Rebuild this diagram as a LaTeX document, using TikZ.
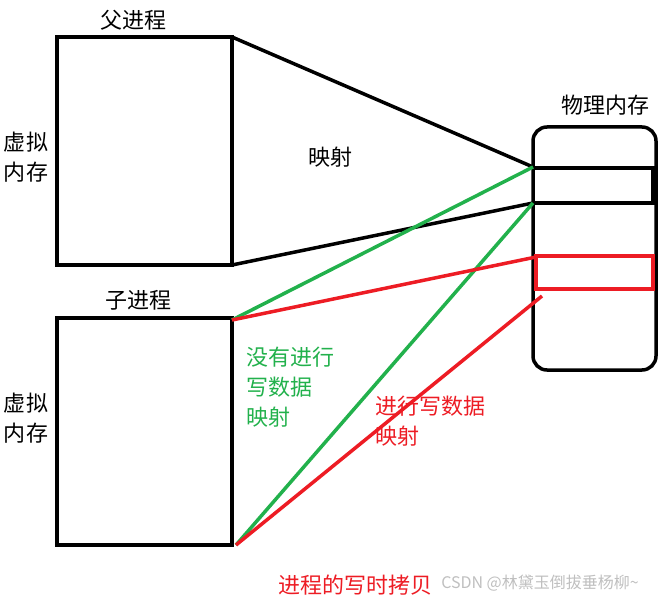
\documentclass[tikz,border=0pt]{standalone}
\usepackage{fontspec}
\setmainfont{Noto Sans CJK SC}
\begin{document}
\begin{tikzpicture}[x=1pt,y=-1pt,
  box/.style={line width=3.5pt},
  lbl/.style={font=\fontsize{22}{30}\selectfont, align=left},
  gl/.style={line width=3.5pt,draw={rgb,255:red,34;green,177;blue,76}},
  rl/.style={line width=3.5pt,draw={rgb,255:red,237;green,28;blue,36}}]
\useasboundingbox (0,0) rectangle (660,604);
\draw[box] (57,37) rectangle (232,265);
\draw[box] (57,318) rectangle (232,545);
\draw[box, rounded corners=14pt] (533,127) rectangle (656,370);
\coordinate (pa) at (232,37); \coordinate (pb) at (232,265);
\coordinate (ca) at (232,320); \coordinate (cb) at (236,545);
\coordinate (m1) at (533,167); \coordinate (m2) at (533,203);
\coordinate (r1) at (536,257); \coordinate (r2) at (542,296);
\draw[box] (533,168) -- (656,168) (533,203) -- (656,203);
\draw[line width=5pt] (653,168) -- (653,203);
\draw[box] (pa) -- (m1); \draw[box] (pb) -- (m2);
\draw[gl] (ca) -- (m1); \draw[gl] (cb) -- (m2);
\draw[rl] (ca) -- (r1); \draw[rl] (cb) -- (r2);
\draw[rl] (536,256) rectangle (653,289);
\node[lbl] (t1) at (133,20) {父进程};
\node[lbl] (t2) at (26,157) {虚拟\\内存};
\node[lbl] (t3) at (330,157) {映射};
\node[lbl] (t4) at (605,105) {物理内存};
\node[lbl] (t5) at (138,300) {子进程};
\node[lbl] (t6) at (26,418) {虚拟\\内存};
\node[lbl, text={rgb,255:red,34;green,177;blue,76}, anchor=north west] (t7) at (243,343) {没有进行\\写数据\\映射};
\node[lbl, text={rgb,255:red,237;green,28;blue,36}, anchor=north west] (t8) at (372,392) {进行写数据\\映射};
\node[lbl, text={rgb,255:red,237;green,28;blue,36}] (t9) at (355,585) {进程的写时拷贝};
\node[font=\fontsize{16}{18}\selectfont, text=black!25] (t10) at (540,583) {CSDN @林黛玉倒拔垂杨柳\textasciitilde};
\end{tikzpicture}
\end{document}
